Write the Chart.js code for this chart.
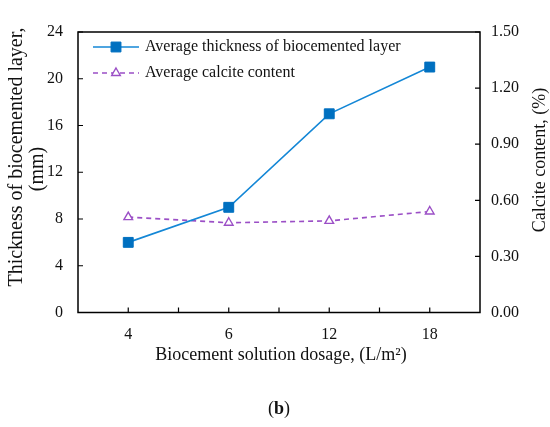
<!DOCTYPE html>
<html>
<head>
<meta charset="utf-8">
<script src="https://cdn.jsdelivr.net/npm/chart.js@4/dist/chart.umd.min.js"></script>
<style>
  html, body { margin: 0; padding: 0; background: #fff; }
  #wrap { width: 550px; height: 427px; position: relative; }
</style>
</head>
<body>
<div id="wrap"><canvas id="chart" width="550" height="427"></canvas></div>
<script>
// data
const dosages = ['4', '6', '12', '18'];
const thickness = [6, 9, 17, 21];          // mm
const calcite = [0.51, 0.48, 0.49, 0.54];  // %

const thicknessTicks = [0, 4, 8, 12, 16, 20, 24];
const calciteTicks = [0, 0.3, 0.6, 0.9, 1.2, 1.5];

const SERIF = "'Liberation Serif', 'Times New Roman', serif";
const BLUE = '#0070c0';
const BLUE_LINE = '#1487d6';
const PURPLE = '#9b4fc6';

// frame, inward ticks, titles, legend and caption
const decor = {
  id: 'decor',
  afterDraw(chart) {
    const ctx = chart.ctx;
    const a = chart.chartArea;
    const x = chart.scales.x, y = chart.scales.y, y1 = chart.scales.y1;
    ctx.save();
    ctx.strokeStyle = '#000';
    ctx.lineWidth = 1.5;
    ctx.strokeRect(a.left, a.top, a.right - a.left, a.bottom - a.top);

    ctx.lineWidth = 1.2;
    ctx.beginPath();
    thicknessTicks.forEach(v => {
      const py = y.getPixelForValue(v);
      ctx.moveTo(a.left, py); ctx.lineTo(a.left + 5, py);
    });
    calciteTicks.forEach(v => {
      const py = y1.getPixelForValue(v);
      ctx.moveTo(a.right, py); ctx.lineTo(a.right - 5, py);
    });
    for (let i = 0; i < dosages.length; i++) {
      [i, i + 0.5].forEach(v => {
        if (v > dosages.length - 1) return;
        const px = x.getPixelForValue(v);
        ctx.moveTo(px, a.bottom); ctx.lineTo(px, a.bottom - 5);
      });
    }
    ctx.stroke();

    // axis titles
    ctx.fillStyle = '#111';
    ctx.textAlign = 'center';
    ctx.textBaseline = 'middle';
    ctx.font = '18px ' + SERIF;
    ctx.fillText('Biocement solution dosage, (L/m\u00b2)', 281, 355.5);

    ctx.save();
    ctx.translate(540, 160);
    ctx.rotate(-Math.PI / 2);
    ctx.fillText('Calcite content, (%)', 0, 0);
    ctx.restore();

    ctx.font = '20px ' + SERIF;
    ctx.save();
    ctx.translate(16.5, 157);
    ctx.rotate(-Math.PI / 2);
    ctx.fillText('Thickness of biocemented layer,', 0, 0);
    ctx.restore();
    ctx.save();
    ctx.translate(38, 169);
    ctx.rotate(-Math.PI / 2);
    ctx.fillText('(mm)', 0, 0);
    ctx.restore();

    // caption
    ctx.textAlign = 'left';
    ctx.font = '18px ' + SERIF;
    const pw = ctx.measureText('(').width;
    ctx.font = 'bold 18px ' + SERIF;
    const bw = ctx.measureText('b').width;
    const cx = 279 - (2 * pw + bw) / 2;
    ctx.font = '18px ' + SERIF;
    ctx.fillText('(', cx, 409);
    ctx.font = 'bold 18px ' + SERIF;
    ctx.fillText('b', cx + pw, 409);
    ctx.font = '18px ' + SERIF;
    ctx.fillText(')', cx + pw + bw, 409);

    // legend inside plot
    const rows = [
      { ds: chart.data.datasets[0], y: 47 },
      { ds: chart.data.datasets[1], y: 73 }
    ];
    rows.forEach(r => {
      ctx.save();
      ctx.strokeStyle = r.ds.borderColor;
      ctx.lineWidth = r.ds.borderWidth;
      ctx.setLineDash(r.ds.borderDash || []);
      ctx.beginPath();
      ctx.moveTo(93, r.y); ctx.lineTo(139, r.y);
      ctx.stroke();
      ctx.setLineDash([]);
      ctx.fillStyle = r.ds.pointBackgroundColor;
      ctx.strokeStyle = r.ds.pointBorderColor;
      ctx.lineWidth = r.ds.pointBorderWidth;
      Chart.helpers.drawPoint(ctx, {
        pointStyle: r.ds.pointStyle, radius: r.ds.pointRadius,
        borderWidth: r.ds.pointBorderWidth, rotation: 0
      }, 116, r.y);
      ctx.restore();
      ctx.fillStyle = '#111';
      ctx.font = '16px ' + SERIF;
      ctx.textAlign = 'left';
      ctx.fillText(r.ds.label, 145, r.y);
    });
    ctx.restore();
  }
};

new Chart(document.getElementById('chart'), {
  type: 'line',
  data: {
    labels: dosages,
    datasets: [{
      label: 'Average thickness of biocemented layer',
      data: thickness,
      yAxisID: 'y',
      borderColor: BLUE_LINE,
      borderWidth: 1.6,
      pointStyle: 'rect',
      pointRadius: 7,
      pointBackgroundColor: BLUE,
      pointBorderColor: BLUE,
      pointBorderWidth: 1,
      tension: 0
    }, {
      label: 'Average calcite content',
      data: calcite,
      yAxisID: 'y1',
      borderColor: PURPLE,
      borderWidth: 1.6,
      borderDash: [5, 4],
      pointStyle: 'triangle',
      pointRadius: 5,
      pointBackgroundColor: '#fff',
      pointBorderColor: PURPLE,
      pointBorderWidth: 1.4,
      tension: 0
    }]
  },
  options: {
    responsive: false,
    animation: false,
    layout: { padding: { top: 32, left: 0, right: 0, bottom: 0 } },
    plugins: { legend: { display: false }, tooltip: { enabled: false } },
    scales: {
      x: {
        type: 'category',
        offset: true,
        grid: { display: false, drawTicks: false },
        border: { display: false },
        ticks: { color: '#111', font: { family: SERIF, size: 16 }, padding: 13 },
        afterFit: s => { s.height = 114.5; }
      },
      y: {
        position: 'left',
        min: 0, max: 24,
        afterBuildTicks: s => { s.ticks = thicknessTicks.map(v => ({ value: v })); },
        grid: { display: false, drawTicks: false },
        border: { display: false },
        ticks: { color: '#111', font: { family: SERIF, size: 16 }, padding: 15 },
        afterFit: s => { s.width = 78; }
      },
      y1: {
        position: 'right',
        min: 0, max: 1.5,
        afterBuildTicks: s => { s.ticks = calciteTicks.map(v => ({ value: v })); },
        grid: { display: false, drawTicks: false },
        border: { display: false },
        ticks: {
          color: '#111', font: { family: SERIF, size: 16 }, padding: 11,
          callback: v => Number(v).toFixed(2)
        },
        afterFit: s => { s.width = 70; }
      }
    }
  },
  plugins: [decor]
});
</script>
</body>
</html>
